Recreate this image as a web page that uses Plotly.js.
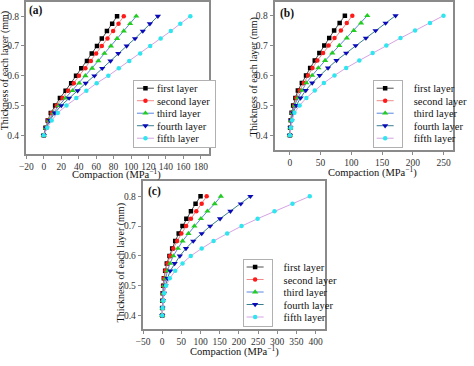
<!DOCTYPE html>
<html><head><meta charset="utf-8">
<script src="https://cdn.plot.ly/plotly-3.0.1.min.js"></script>
<style>html,body{margin:0;padding:0;background:#fff;}#chart{width:474px;height:366px;}</style>
</head><body><div id="chart"></div>
<script>
// Thickness of each layer (mm) — shared y values
const thickness = [0.4,0.425,0.45,0.475,0.5,0.525,0.55,0.575,0.6,0.625,0.65,0.675,0.7,0.725,0.75,0.775,0.8];
const seriesNames = ['first layer','second layer','third layer','fourth layer','fifth layer'];

// Panel (a) compaction (MPa^-1)
const aFirst  = [0,2,4.5,8,13,18.5,25,31.4,37,43,49.5,55,61,66.5,72.4,78.4,84];
const aSecond = [0,2,5,9,14.8,21.4,28,34.4,40.3,47.7,54,60,66.5,73,79.5,85.7,91.7];
const aThird  = [0,2.5,6,11,17.4,25,33,40.6,47.7,55.4,62.5,69.5,77,84,91.7,99,106];
const aFourth = [0,3,7,12.6,20,29,38.8,48,58,67,76.5,85.4,95,104.6,113.5,121.6,130.8];
const aFifth  = [0,4,9,16,26,37.3,48.8,60.6,74,86,98,110.5,122,134,145.6,156.5,168];
// Panel (b)
const bFirst  = [0,0.5,1.4,2.8,5.3,9,13,19.5,26.3,33,40.5,48,56,64,72,81,89.5];
const bSecond = [0,0.7,1.8,3.5,6.8,10.5,15.8,22.6,29.5,36.8,44.7,54,63,72.6,83,92.6,101.6];
const bThird  = [0,0.8,2,4.2,7.9,13,19.5,26.8,36.3,46.3,57.4,69,80.5,92.6,104,115.8,126];
const bFourth = [0,1,2.6,5.3,10.5,17.4,25.8,36.3,48.4,62,75.8,91.6,107,123.7,139.5,155.8,172];
const bFifth  = [0,1.6,3.7,7.4,15.8,26.8,40.5,55.3,72.6,91.6,113,134.7,157,180,203.7,228,250];
// Panel (c)
const cFirst  = [0,0.2,0.5,1.2,2.5,4.3,7.7,12,19,26,34,43,53,63,75,87,100];
const cSecond = [0,0.2,0.7,1.5,3,5,8.6,13.7,20.5,29,39,50,62.5,75,89,103,116];
const cThird  = [0,0.4,1.2,2.5,5,8.6,13.7,20.5,29,41,53,68.5,84,101,118,137,153];
const cFourth = [0,0.7,2,4.5,8.6,13.7,21,32.5,46,62,81,103,125,151,178,205,230];
const cFifth  = [0,1,2.5,5,10,19.7,34,53,74.5,103,134,169.5,207,249,293,340,385];

const panelLabels = ['(a)','(b)','(c)'];
const xTitle = 'Compaction (MPa<sup>−1</sup>)';
const yTitle = 'Thickness of each layer (mm)';

// Styles
const markerColors = ['#000000','#ff1a1a','#22cc22','#0a0ab8','#30e6ee'];
const lineColors   = ['#505050','#f08a8a','#5a86e0','#3a7f90','#d6a2e4'];
const symbols      = ['square','circle','triangle-up','triangle-down','circle'];
const sizes        = [4.5,4.5,5.5,5.5,4.5];

const panels = [
  {data:[aFirst,aSecond,aThird,aFourth,aFifth], xa:'x',  ya:'y',  lg:'legend'},
  {data:[bFirst,bSecond,bThird,bFourth,bFifth], xa:'x2', ya:'y2', lg:'legend2'},
  {data:[cFirst,cSecond,cThird,cFourth,cFifth], xa:'x3', ya:'y3', lg:'legend3'}
];
const traces = [];
panels.forEach(p => {
  p.data.forEach((xs, i) => {
    traces.push({type:'scatter', mode:'lines+markers', name: seriesNames[i],
      x: xs, y: thickness, xaxis: p.xa, yaxis: p.ya, legend: p.lg,
      line:{color: lineColors[i], width:1},
      marker:{color: markerColors[i], symbol: symbols[i], size: sizes[i], line:{width:0}}});
  });
});

const SERIF = 'Liberation Serif, Times New Roman, serif';
const axisCommon = {showline:true, mirror:true, linecolor:'#8a8a8a', linewidth:2,
  ticks:'outside', ticklen:3, tickwidth:1, tickcolor:'#8a8a8a',
  showgrid:false, zeroline:false, tickfont:{family:SERIF, size:9.5, color:'#333'}};
const yCommon = Object.assign({}, axisCommon, {tick0:0.4, dtick:0.1});
const legendCommon = {xanchor:'left', yanchor:'top', bgcolor:'#ffffff', bordercolor:'#b0b0b0',
  borderwidth:1, font:{family:SERIF, size:10.5, color:'#111'}};

const W = 474, H = 366;
function px(x){return x/W;} function py(y){return 1-y/H;}
function ann(text, x, y, opts){
  return Object.assign({text, x:px(x), y:py(y), xref:'paper', yref:'paper', showarrow:false,
    xanchor:'center', yanchor:'middle', font:{family:SERIF, size:10.5, color:'#111'}}, opts||{});
}
const boldFont = {family:SERIF, size:11.5, color:'#111'};
const yFont = {family:SERIF, size:10, color:'#111'};

const layout = {width:W, height:H, margin:{l:0,r:0,t:0,b:0},
  xaxis:  Object.assign({}, axisCommon, {tick0:0,dtick:20,domain:[px(26.7),px(215)], anchor:'y',  range:[-20.5,189]}),
  yaxis:  Object.assign({}, yCommon, {domain:[py(157),py(2)], anchor:'x',  range:[0.3385,0.848]}),
  xaxis2: Object.assign({}, axisCommon, {tick0:0,dtick:50,domain:[px(283),px(467)], anchor:'y2', range:[-24.8,265.8]}),
  yaxis2: Object.assign({}, yCommon, {domain:[py(153.3),py(2)], anchor:'x2', range:[0.351,0.8457]}),
  xaxis3: Object.assign({}, axisCommon, {tick0:0,dtick:50,domain:[px(147),px(335)], anchor:'y3', range:[-51,425]}),
  yaxis3: Object.assign({}, yCommon, {domain:[py(336),py(185)], anchor:'x3', range:[0.356,0.8515]}),
  legend:  Object.assign({}, legendCommon, {x:px(137), y:py(82)}),
  legend2: Object.assign({}, legendCommon, {x:px(384), y:py(82)}),
  legend3: Object.assign({}, legendCommon, {x:px(250), y:py(265)}),
  annotations:[
    ann('<b>'+panelLabels[0]+'</b>', 37.5, 11, {font:boldFont}),
    ann('<b>'+panelLabels[1]+'</b>', 295.5, 13.5, {font:boldFont}),
    ann('<b>'+panelLabels[2]+'</b>', 159, 196, {font:boldFont}),
    ann(xTitle, 120, 178),
    ann(xTitle, 384, 176),
    ann(xTitle, 242, 359),
    ann(yTitle, 6, 72, {textangle:-90, font:yFont}),
    ann(yTitle, 262, 79, {textangle:-90, font:yFont}),
    ann(yTitle, 125, 269, {textangle:-90, font:yFont})
  ]
};

function tightenLegend(cls){
  const lg = document.querySelector('g.' + cls);
  if(!lg) return;
  const items = lg.querySelectorAll('g.traces');
  const s = 12.5, top = 8, bw = 1;
  let maxW = 0;
  items.forEach((it, i) => {
    it.setAttribute('transform', 'translate(' + bw + ',' + (top + i*s) + ')');
    it.querySelectorAll('path.js-line').forEach(l => l.setAttribute('d','M3,0h17'));
    it.querySelectorAll('path.scatterpts').forEach(p => p.setAttribute('transform','translate(11.5,0)'));
    const t = it.querySelector('text.legendtext');
    if(t){ t.setAttribute('x', 23); maxW = Math.max(maxW, t.getComputedTextLength()); }
  });
  const bg = lg.querySelector('rect.bg');
  if(bg){
    bg.setAttribute('width', 23 + maxW + 6);
    bg.setAttribute('height', top + (items.length-1)*s + 9);
  }
}

Plotly.newPlot('chart', traces, layout, {staticPlot:true}).then(() => {
  ['legend','legend2','legend3'].forEach(tightenLegend);
});
</script>
</body></html>
